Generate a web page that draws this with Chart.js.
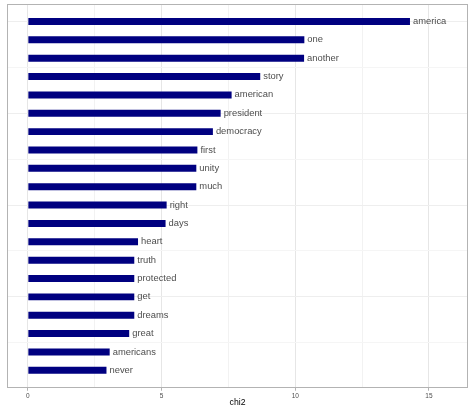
<!DOCTYPE html>
<html>
<head>
<meta charset="utf-8">
<script src="https://cdn.jsdelivr.net/npm/chart.js@4"></script>
<style>
  html, body { margin: 0; padding: 0; background: #fff; }
  #wrap { width: 474px; height: 414px; position: relative; }
</style>
</head>
<body>
<div id="wrap"><canvas id="chi2Chart"></canvas></div>
<script>
// words ranked by chi2, top to bottom
const words = ['america', 'one', 'another', 'story', 'american', 'president', 'democracy',
    'first', 'unity', 'much', 'right', 'days', 'heart', 'truth', 'protected', 'get',
    'dreams', 'great', 'americans', 'never'];
const chi2 = [14.29, 10.34, 10.33, 8.69, 7.62, 7.21, 6.92, 6.34, 6.30, 6.30, 5.19, 5.15,
    4.12, 3.98, 3.98, 3.98, 3.98, 3.79, 3.06, 2.94];
const rank = [20, 19, 18, 17, 16, 15, 14, 13, 12, 11, 10, 9, 8, 7, 6, 5, 4, 3, 2, 1];
const xTicks = [0, 5, 10, 15];

const FONT = '"Liberation Sans", Arial, Helvetica, sans-serif';

// text labels to the right of each bar
const barLabels = {
    id: 'barLabels',
    afterDatasetsDraw(chart) {
        const ctx = chart.ctx;
        const meta = chart.getDatasetMeta(0);
        ctx.save();
        ctx.font = '9.4px ' + FONT;
        ctx.fillStyle = '#4d4d4d';
        ctx.textAlign = 'left';
        ctx.textBaseline = 'middle';
        meta.data.forEach((bar, i) => {
            ctx.fillText(words[i], bar.x + 3, bar.y);
        });
        ctx.restore();
    }
};

// grey panel border like theme_light
const panelBorder = {
    id: 'panelBorder',
    afterDraw(chart) {
        const a = chart.chartArea;
        const ctx = chart.ctx;
        ctx.save();
        ctx.strokeStyle = '#b3b3b3';
        ctx.lineWidth = 1;
        ctx.strokeRect(Math.round(a.left) + 0.5, Math.round(a.top) + 0.5,
            Math.round(a.right - a.left) - 1, Math.round(a.bottom - a.top) - 1);
        ctx.restore();
    }
};

const isMajor = ctx => ctx.tick && Math.abs(ctx.tick.value % 5) < 1e-9;

new Chart(document.getElementById('chi2Chart'), {
    type: 'bar',
    data: {
        datasets: [{
            data: chi2.map((v, i) => ({ x: v, y: rank[i] })),
            backgroundColor: '#000080',
            borderWidth: 0,
            barPercentage: 0.38,
            categoryPercentage: 1
        }]
    },
    options: {
        indexAxis: 'y',
        responsive: true,
        maintainAspectRatio: false,
        animation: false,
        layout: { padding: { left: 7, top: 4, right: 6, bottom: 6 } },
        plugins: {
            legend: { display: false },
            tooltip: { enabled: false }
        },
        scales: {
            x: {
                type: 'linear',
                min: -0.78,
                max: 16.46,
                border: { display: false },
                grid: {
                    color: ctx => isMajor(ctx) ? '#e6e6e6' : '#f2f2f2',
                    tickColor: ctx => isMajor(ctx) ? '#b3b3b3' : 'rgba(0,0,0,0)',
                    tickLength: 3,
                    lineWidth: 1
                },
                ticks: {
                    stepSize: 2.5,
                    includeBounds: false,
                    autoSkip: false,
                    maxRotation: 0,
                    padding: 2,
                    color: '#4d4d4d',
                    font: { family: FONT, size: 6.5 },
                    callback: v => xTicks.includes(v) ? String(v) : ''
                },
                title: {
                    display: true,
                    text: 'chi2',
                    color: '#000',
                    font: { family: FONT, size: 8.7 },
                    padding: { top: -5, bottom: 0 }
                }
            },
            y: {
                type: 'linear',
                min: 0.05,
                max: 20.95,
                offset: false,
                border: { display: false },
                grid: {
                    offset: false,
                    color: ctx => isMajor(ctx) ? '#eeeeee' : '#f5f5f5',
                    drawTicks: false,
                    lineWidth: 1
                },
                ticks: {
                    display: false,
                    stepSize: 2.5,
                    includeBounds: false
                }
            }
        }
    },
    plugins: [barLabels, panelBorder]
});
</script>
</body>
</html>
